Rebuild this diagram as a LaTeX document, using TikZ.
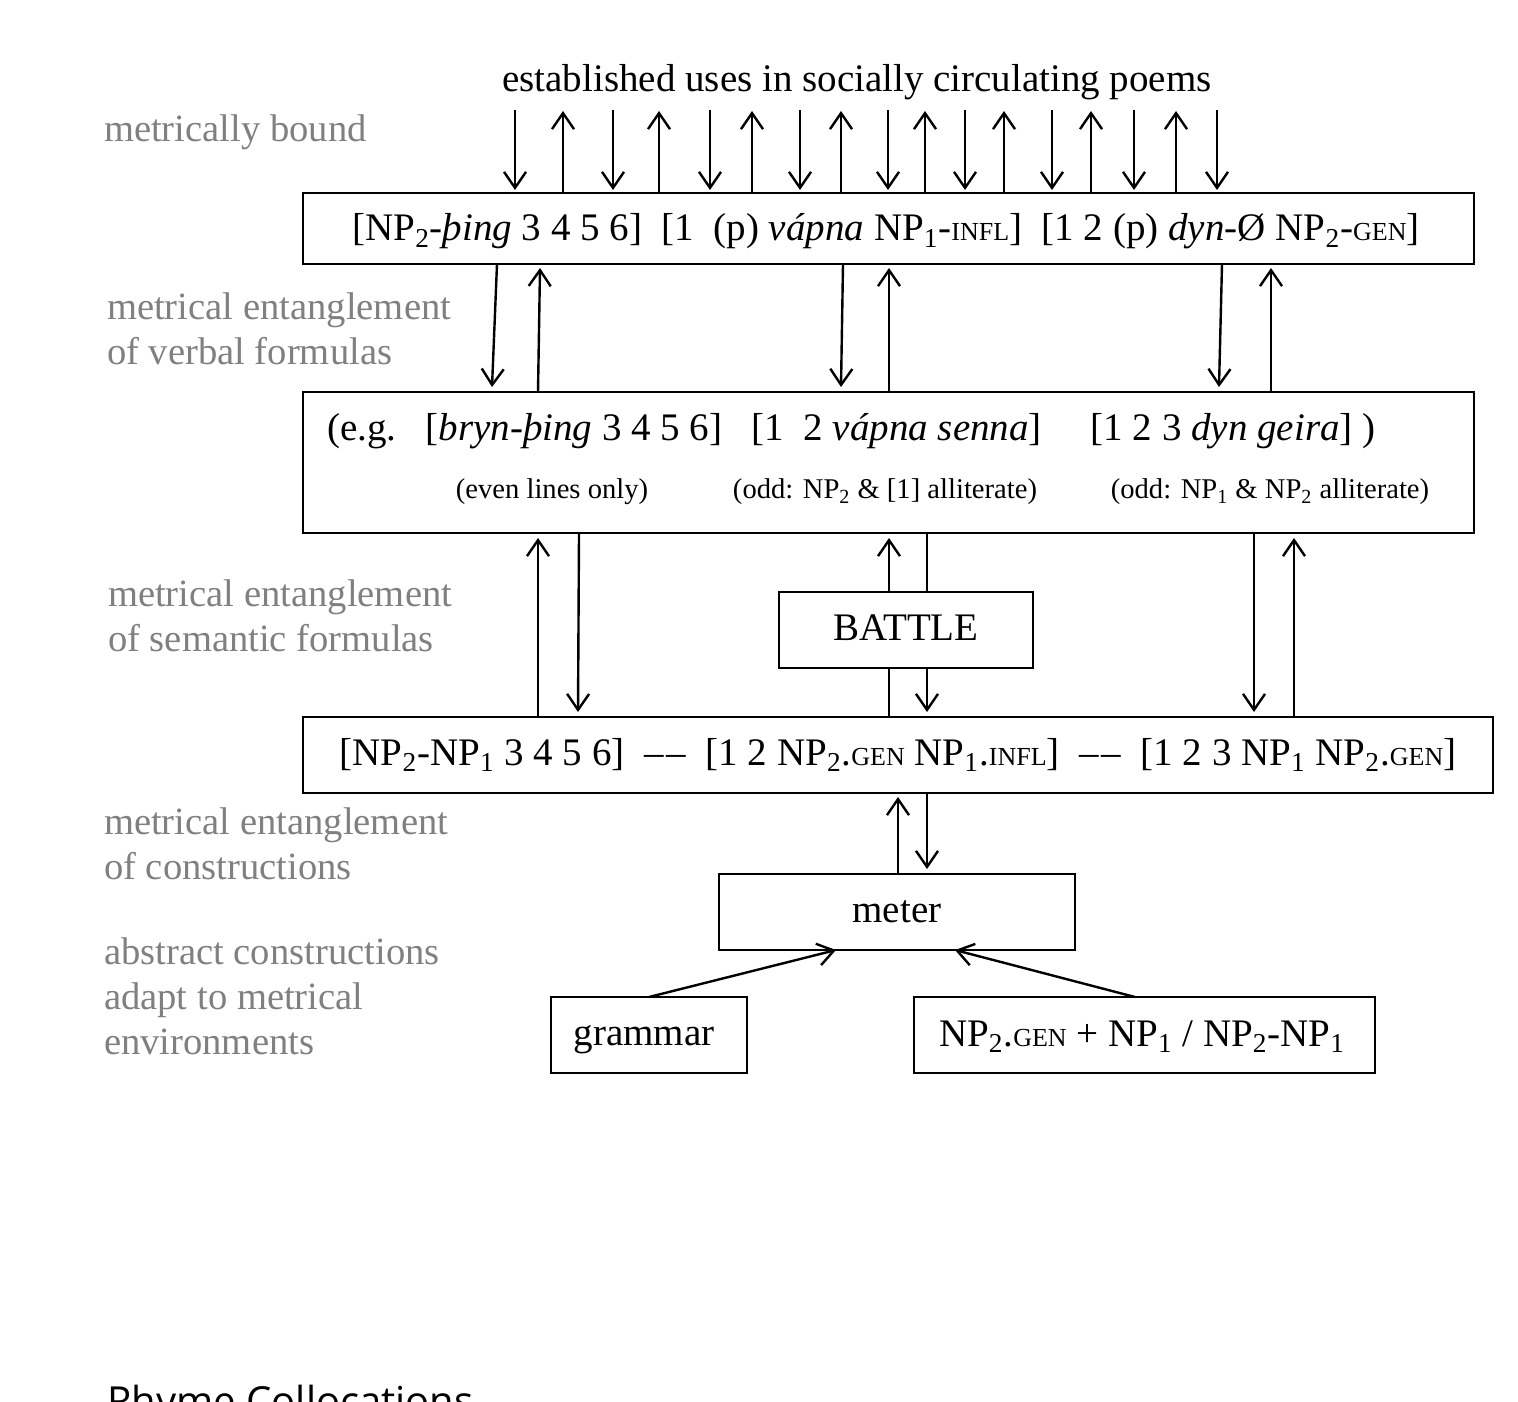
\documentclass[tikz,border=0pt]{standalone}
\usepackage{fontspec}
\setmainfont{Liberation Serif}
\newfontfamily\sansf{Open Sans}
\usetikzlibrary{arrows.meta}
\newcommand{\smc}[1]{{\fontsize{13pt}{14pt}\selectfont #1}}
\newcommand{\sub}[1]{\textsubscript{#1}}
\newcommand{\ddash}{\textendash\kern1.5pt\textendash}
\begin{document}
\begin{tikzpicture}[x=0.5pt,y=-0.5pt,
  box/.style={draw,line width=0.8pt},
  ar/.style={line width=1.2pt,-{Straight Barb[length=8pt,width=11pt]}},
  ln/.style={line width=1.2pt},
  lbl/.style={anchor=west,text=black!50,font=\fontsize{19.3pt}{22.5pt}\selectfont,align=left},
  txt/.style={font=\fontsize{19.5pt}{22pt}\selectfont,text height=13pt,text depth=4pt},
  small/.style={font=\fontsize{14.3pt}{16pt}\selectfont}]
\useasboundingbox (0,0) rectangle (1518,1401);
% boxes
\draw[box] (303,193) rectangle (1474,264);
\draw[box] (303,392) rectangle (1474,533);
\draw[box] (779,592) rectangle (1033,668);
\draw[box] (303,717) rectangle (1493,793);
\draw[box] (719,874) rectangle (1075,950);
\draw[box] (551,997) rectangle (747,1073);
\draw[box] (914,997) rectangle (1375,1073);
% texts
\node[txt] (top) at (857,83) {established uses in socially circulating poems};
\node[txt] (t1) at (886,232) {[NP\sub{2}-\textit{þing} 3 4 5 6]\ \ [1\ \ (p) \textit{vápna} NP\sub{1}-\smc{INFL}]\ \ [1 2 (p) \textit{dyn}-Ø NP\sub{2}-\smc{GEN}]};
\node[txt,anchor=west] (t2) at (320,431) {(e.g.\ \ \ [\textit{bryn-þing} 3 4 5 6]\ \ \ [1\ \ 2 \textit{vápna senna}]\ \ \ \ \ [1 2 3 \textit{dyn geira}] )};
\node[small] (e1) at (552,492) {(even lines only)};
\node[small] (e2) at (885,492) {(odd: NP\sub{2} \& [1] alliterate)};
\node[small] (e3) at (1270,492) {(odd: NP\sub{1} \& NP\sub{2} alliterate)};
\node[txt] (bat) at (906,631) {BATTLE};
\node[txt] (t3) at (898,756) {[NP\sub{2}-NP\sub{1} 3 4 5 6]\ \ \ddash\ \ [1 2 NP\sub{2}.\smc{GEN} NP\sub{1}.\smc{INFL}]\ \ \ddash\ \ [1 2 3 NP\sub{1} NP\sub{2}.\smc{GEN}]};
\node[txt] (met) at (897,913) {meter};
\node[txt] (gr) at (644,1036) {grammar};
\node[txt] (np) at (1142,1037) {NP\sub{2}.\smc{GEN} + NP\sub{1} / NP\sub{2}-NP\sub{1}};
% left labels
\node[lbl] (l1) at (97,132) {metrically bound};
\node[lbl] (l2) at (100,329) {metrical entanglement\\of verbal formulas};
\node[lbl] (l3) at (101,616) {metrical entanglement\\of semantic formulas};
\node[lbl] (l4) at (97,844) {metrical entanglement\\of constructions};
\node[lbl] (l5) at (97,996) {abstract constructions\\adapt to metrical\\environments};
\node[anchor=north west,font=\sansf\fontsize{20pt}{24pt}\selectfont] (rc) at (100,1378) {Rhyme Collocations};
% top arrows
\foreach \x in {515,613,710,800,888,965,1052,1134,1217} {\coordinate (d\x) at (\x,110); \draw[ar] (d\x) -- (\x,190);}
\foreach \x in {563,659,752,841,925,1004,1091,1176} {\coordinate (u\x) at (\x,193); \draw[ar] (u\x) -- (\x,111);}
% B1 - B2
\draw[ar] (497,264) -- (492,387);
\draw[ar] (538,392) -- (540,268);
\draw[ar] (843,264) -- (841,387);
\draw[ar] (889,392) -- (889,268);
\draw[ar] (1222,264) -- (1219,387);
\draw[ar] (1271,392) -- (1271,268);
% B2 - B3
\draw[ar] (538,717) -- (538,538);
\draw[ar] (579,533) -- (578,712);
\draw[ar] (889,592) -- (889,538);
\draw[ln] (927,533) -- (927,592);
\draw[ln] (889,668) -- (889,717);
\draw[ar] (927,668) -- (927,712);
\draw[ar] (1254,533) -- (1254,712);
\draw[ar] (1294,717) -- (1294,538);
% B3 - meter
\draw[ar] (898,874) -- (898,797);
\draw[ar] (927,793) -- (927,869);
\draw[ar] (649,997) -- (836,950);
\draw[ar] (1135,997) -- (955,950);
\end{tikzpicture}
\end{document}
